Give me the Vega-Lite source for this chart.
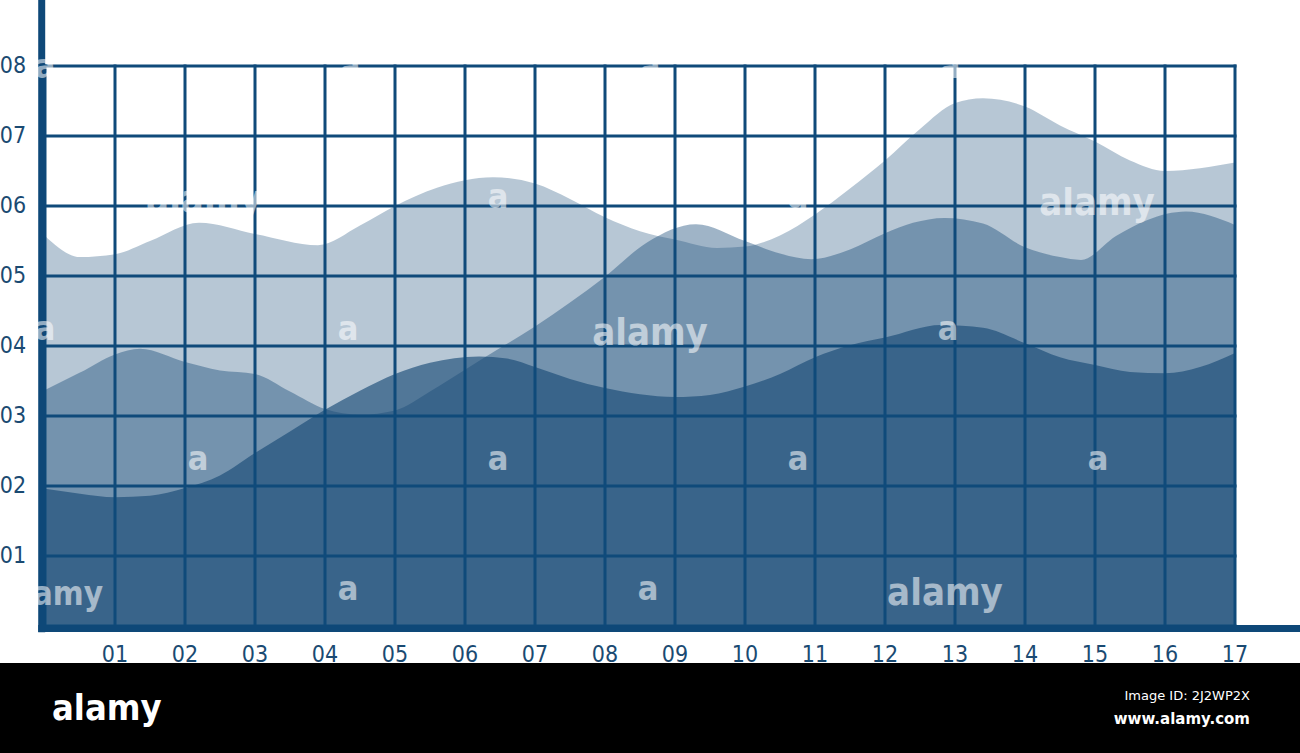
{
  "$schema": "https://vega.github.io/schema/vega-lite/v6.json",
  "width": 1300,
  "height": 753,
  "autosize": "none",
  "padding": 0,
  "background": "white",
  "config": {"view": {"stroke": null}},
  "datasets": {
    "series": [
      {"series": "A", "x": 0, "value": 5.57}, {"series": "A", "x": 0.5, "value": 5.27}, {"series": "A", "x": 1, "value": 5.31},
      {"series": "A", "x": 1.5, "value": 5.5}, {"series": "A", "x": 2.2, "value": 5.76}, {"series": "A", "x": 3, "value": 5.6},
      {"series": "A", "x": 3.9, "value": 5.44}, {"series": "A", "x": 4.5, "value": 5.72}, {"series": "A", "x": 5, "value": 6.0},
      {"series": "A", "x": 5.6, "value": 6.26}, {"series": "A", "x": 6.4, "value": 6.41}, {"series": "A", "x": 7, "value": 6.32},
      {"series": "A", "x": 7.5, "value": 6.1}, {"series": "A", "x": 8, "value": 5.84}, {"series": "A", "x": 8.5, "value": 5.64},
      {"series": "A", "x": 9, "value": 5.52}, {"series": "A", "x": 9.6, "value": 5.4}, {"series": "A", "x": 10, "value": 5.42},
      {"series": "A", "x": 10.5, "value": 5.58}, {"series": "A", "x": 11, "value": 5.88}, {"series": "A", "x": 11.5, "value": 6.25},
      {"series": "A", "x": 12, "value": 6.65}, {"series": "A", "x": 12.5, "value": 7.1}, {"series": "A", "x": 13, "value": 7.47},
      {"series": "A", "x": 13.4, "value": 7.54}, {"series": "A", "x": 14, "value": 7.42}, {"series": "A", "x": 14.5, "value": 7.15},
      {"series": "A", "x": 15, "value": 6.92}, {"series": "A", "x": 15.5, "value": 6.65}, {"series": "A", "x": 16, "value": 6.5},
      {"series": "A", "x": 16.5, "value": 6.54}, {"series": "A", "x": 17, "value": 6.62},
      {"series": "B", "x": 0, "value": 3.37}, {"series": "B", "x": 0.5, "value": 3.62}, {"series": "B", "x": 1, "value": 3.88},
      {"series": "B", "x": 1.36, "value": 3.96}, {"series": "B", "x": 2, "value": 3.77}, {"series": "B", "x": 2.5, "value": 3.65},
      {"series": "B", "x": 3, "value": 3.6}, {"series": "B", "x": 3.5, "value": 3.35}, {"series": "B", "x": 4, "value": 3.1},
      {"series": "B", "x": 4.5, "value": 3.02}, {"series": "B", "x": 5, "value": 3.08}, {"series": "B", "x": 5.5, "value": 3.35},
      {"series": "B", "x": 6, "value": 3.66}, {"series": "B", "x": 6.5, "value": 3.97}, {"series": "B", "x": 7, "value": 4.28},
      {"series": "B", "x": 7.5, "value": 4.62}, {"series": "B", "x": 8, "value": 4.99}, {"series": "B", "x": 8.6, "value": 5.48},
      {"series": "B", "x": 9.3, "value": 5.74}, {"series": "B", "x": 10, "value": 5.5}, {"series": "B", "x": 10.5, "value": 5.32},
      {"series": "B", "x": 10.95, "value": 5.24}, {"series": "B", "x": 11.5, "value": 5.38}, {"series": "B", "x": 12, "value": 5.61},
      {"series": "B", "x": 12.4, "value": 5.76}, {"series": "B", "x": 12.85, "value": 5.83}, {"series": "B", "x": 13.4, "value": 5.75},
      {"series": "B", "x": 14, "value": 5.41}, {"series": "B", "x": 14.5, "value": 5.27}, {"series": "B", "x": 14.8, "value": 5.23},
      {"series": "B", "x": 15.3, "value": 5.57}, {"series": "B", "x": 15.75, "value": 5.8}, {"series": "B", "x": 16.3, "value": 5.92},
      {"series": "B", "x": 17, "value": 5.73},
      {"series": "C", "x": 0, "value": 1.96}, {"series": "C", "x": 0.5, "value": 1.89}, {"series": "C", "x": 1, "value": 1.84},
      {"series": "C", "x": 1.5, "value": 1.86}, {"series": "C", "x": 2, "value": 1.97}, {"series": "C", "x": 2.5, "value": 2.15},
      {"series": "C", "x": 3, "value": 2.47}, {"series": "C", "x": 3.5, "value": 2.78}, {"series": "C", "x": 4, "value": 3.09},
      {"series": "C", "x": 4.5, "value": 3.36}, {"series": "C", "x": 5, "value": 3.6}, {"series": "C", "x": 5.5, "value": 3.76},
      {"series": "C", "x": 6.2, "value": 3.85}, {"series": "C", "x": 6.6, "value": 3.82}, {"series": "C", "x": 7, "value": 3.7},
      {"series": "C", "x": 7.5, "value": 3.53}, {"series": "C", "x": 8, "value": 3.4}, {"series": "C", "x": 8.5, "value": 3.31},
      {"series": "C", "x": 9, "value": 3.27}, {"series": "C", "x": 9.5, "value": 3.3}, {"series": "C", "x": 10, "value": 3.42},
      {"series": "C", "x": 10.5, "value": 3.6}, {"series": "C", "x": 11, "value": 3.84}, {"series": "C", "x": 11.5, "value": 4.01},
      {"series": "C", "x": 12, "value": 4.12}, {"series": "C", "x": 12.8, "value": 4.3}, {"series": "C", "x": 13.4, "value": 4.26},
      {"series": "C", "x": 14, "value": 4.04}, {"series": "C", "x": 14.5, "value": 3.84}, {"series": "C", "x": 15, "value": 3.73},
      {"series": "C", "x": 15.5, "value": 3.63}, {"series": "C", "x": 16, "value": 3.61}, {"series": "C", "x": 16.5, "value": 3.7},
      {"series": "C", "x": 17, "value": 3.9}
    ],
    "xticks": [
      {"tick": 0}, {"tick": 1}, {"tick": 2}, {"tick": 3}, {"tick": 4}, {"tick": 5}, {"tick": 6}, {"tick": 7}, {"tick": 8},
      {"tick": 9}, {"tick": 10}, {"tick": 11}, {"tick": 12}, {"tick": 13}, {"tick": 14}, {"tick": 15}, {"tick": 16}, {"tick": 17}
    ],
    "yticks": [
      {"tick": 0}, {"tick": 1}, {"tick": 2}, {"tick": 3}, {"tick": 4}, {"tick": 5}, {"tick": 6}, {"tick": 7}, {"tick": 8}
    ],
    "wm_big": [
      {"x": 2.271, "y": 5.914}, {"x": 8.643, "y": 4.014},
      {"x": 12.857, "y": 0.3}, {"x": 15.029, "y": 5.871}
    ],
    "wm_small": [
      {"x": 0, "y": 7.829}, {"x": 4.357, "y": 7.829}, {"x": 8.643, "y": 7.829}, {"x": 12.929, "y": 7.829},
      {"x": 6.471, "y": 5.971}, {"x": 10.757, "y": 5.971},
      {"x": 0, "y": 4.086}, {"x": 4.329, "y": 4.086}, {"x": 12.9, "y": 4.086},
      {"x": 2.186, "y": 2.229}, {"x": 6.471, "y": 2.229}, {"x": 10.757, "y": 2.229}, {"x": 15.043, "y": 2.229},
      {"x": 4.329, "y": 0.371}, {"x": 8.614, "y": 0.371}
    ]
  },
  "layer": [
    {
      "data": {"name": "series"},
      "transform": [{"filter": "datum.series === 'A'"}],
      "mark": {"type": "area", "interpolate": "monotone", "color": "#174a76", "opacity": 0.31},
      "encoding": {
        "x": {"field": "x", "type": "quantitative", "scale": {"domain": [-0.642857, 17.928571], "nice": false, "zero": false}, "axis": null},
        "y": {"field": "value", "type": "quantitative", "stack": null, "scale": {"domain": [-1.814286, 8.942857], "nice": false, "zero": false}, "axis": null}
      }
    },
    {
      "data": {"name": "series"},
      "transform": [{"filter": "datum.series === 'B'"}],
      "mark": {"type": "area", "interpolate": "monotone", "color": "#174a76", "opacity": 0.41},
      "encoding": {
        "x": {"field": "x", "type": "quantitative", "scale": {"domain": [-0.642857, 17.928571], "nice": false, "zero": false}, "axis": null},
        "y": {"field": "value", "type": "quantitative", "stack": null, "scale": {"domain": [-1.814286, 8.942857], "nice": false, "zero": false}, "axis": null}
      }
    },
    {
      "data": {"name": "series"},
      "transform": [{"filter": "datum.series === 'C'"}],
      "mark": {"type": "area", "interpolate": "monotone", "color": "#174a76", "opacity": 0.64},
      "encoding": {
        "x": {"field": "x", "type": "quantitative", "scale": {"domain": [-0.642857, 17.928571], "nice": false, "zero": false}, "axis": null},
        "y": {"field": "value", "type": "quantitative", "stack": null, "scale": {"domain": [-1.814286, 8.942857], "nice": false, "zero": false}, "axis": null}
      }
    },
    {
      "data": {"name": "xticks"},
      "mark": {"type": "rule", "color": "#0f4a7a", "strokeWidth": 3, "strokeCap": "square"},
      "encoding": {
        "x": {"field": "tick", "type": "quantitative", "scale": {"domain": [-0.642857, 17.928571], "nice": false, "zero": false}, "axis": null},
        "y": {"datum": 0, "type": "quantitative", "scale": {"domain": [-1.814286, 8.942857], "nice": false, "zero": false}, "axis": null},
        "y2": {"datum": 8}
      }
    },
    {
      "data": {"name": "yticks"},
      "mark": {"type": "rule", "color": "#0f4a7a", "strokeWidth": 3, "strokeCap": "square"},
      "encoding": {
        "y": {"field": "tick", "type": "quantitative", "scale": {"domain": [-1.814286, 8.942857], "nice": false, "zero": false}, "axis": null},
        "x": {"datum": 0, "type": "quantitative", "scale": {"domain": [-0.642857, 17.928571], "nice": false, "zero": false}, "axis": null},
        "x2": {"datum": 17}
      }
    },
    {
      "data": {"values": [{}]},
      "mark": {"type": "rule", "color": "#0e4878", "strokeWidth": 7},
      "encoding": {
        "x": {"datum": -0.047, "type": "quantitative", "scale": {"domain": [-0.642857, 17.928571], "nice": false, "zero": false}, "axis": null},
        "y": {"datum": -0.09, "type": "quantitative", "scale": {"domain": [-1.814286, 8.942857], "nice": false, "zero": false}, "axis": null},
        "y2": {"datum": 8.95}
      }
    },
    {
      "data": {"values": [{}]},
      "mark": {"type": "rule", "color": "#0e4878", "strokeWidth": 7},
      "encoding": {
        "y": {"datum": -0.036, "type": "quantitative", "scale": {"domain": [-1.814286, 8.942857], "nice": false, "zero": false}, "axis": null},
        "x": {"datum": -0.097, "type": "quantitative", "scale": {"domain": [-0.642857, 17.928571], "nice": false, "zero": false}, "axis": null},
        "x2": {"datum": 17.95}
      }
    },
    {
      "data": {"name": "wm_big"},
      "mark": {"type": "text", "text": "alamy", "font": "DejaVu Sans Condensed, DejaVu Sans, sans-serif", "fontWeight": "bold", "fontSize": 38, "align": "center", "baseline": "alphabetic", "color": "white", "opacity": 0.55},
      "encoding": {
        "x": {"field": "x", "type": "quantitative", "scale": {"domain": [-0.642857, 17.928571], "nice": false, "zero": false}, "axis": null},
        "y": {"field": "y", "type": "quantitative", "scale": {"domain": [-1.814286, 8.942857], "nice": false, "zero": false}, "axis": null}
      }
    },
    {
      "data": {"values": [{}]},
      "mark": {"type": "text", "text": "alamy", "font": "DejaVu Sans Condensed, DejaVu Sans, sans-serif", "fontWeight": "bold", "fontSize": 33, "align": "right", "baseline": "alphabetic", "color": "white", "opacity": 0.55},
      "encoding": {
        "x": {"datum": 0.829, "type": "quantitative", "scale": {"domain": [-0.642857, 17.928571], "nice": false, "zero": false}, "axis": null},
        "y": {"datum": 0.3, "type": "quantitative", "scale": {"domain": [-1.814286, 8.942857], "nice": false, "zero": false}, "axis": null}
      }
    },
    {
      "data": {"name": "wm_small"},
      "mark": {"type": "text", "text": "a", "font": "DejaVu Sans Condensed, DejaVu Sans, sans-serif", "fontWeight": "bold", "fontSize": 34, "align": "center", "baseline": "alphabetic", "color": "white", "opacity": 0.55},
      "encoding": {
        "x": {"field": "x", "type": "quantitative", "scale": {"domain": [-0.642857, 17.928571], "nice": false, "zero": false}, "axis": null},
        "y": {"field": "y", "type": "quantitative", "scale": {"domain": [-1.814286, 8.942857], "nice": false, "zero": false}, "axis": null}
      }
    },
    {
      "data": {"name": "xticks"},
      "transform": [{"filter": "datum.tick > 0"}],
      "mark": {"type": "text", "font": "DejaVu Sans Condensed, DejaVu Sans, sans-serif", "fontSize": 23, "align": "center", "baseline": "alphabetic", "color": "#1a4a72"},
      "encoding": {
        "x": {"field": "tick", "type": "quantitative", "scale": {"domain": [-0.642857, 17.928571], "nice": false, "zero": false}, "axis": null},
        "y": {"datum": -0.514, "type": "quantitative", "scale": {"domain": [-1.814286, 8.942857], "nice": false, "zero": false}, "axis": null},
        "text": {"field": "tick", "type": "quantitative", "format": "02d"}
      }
    },
    {
      "data": {"name": "yticks"},
      "transform": [{"filter": "datum.tick > 0"}],
      "mark": {"type": "text", "font": "DejaVu Sans Condensed, DejaVu Sans, sans-serif", "fontSize": 23, "align": "right", "baseline": "middle", "color": "#1a4a72"},
      "encoding": {
        "y": {"field": "tick", "type": "quantitative", "scale": {"domain": [-1.814286, 8.942857], "nice": false, "zero": false}, "axis": null},
        "x": {"datum": -0.27, "type": "quantitative", "scale": {"domain": [-0.642857, 17.928571], "nice": false, "zero": false}, "axis": null},
        "text": {"field": "tick", "type": "quantitative", "format": "02d"}
      }
    },
    {
      "data": {"values": [{}]},
      "mark": {"type": "rect", "color": "black"},
      "encoding": {
        "x": {"datum": -0.7, "type": "quantitative", "scale": {"domain": [-0.642857, 17.928571], "nice": false, "zero": false}, "axis": null},
        "x2": {"datum": 18},
        "y": {"datum": -0.5286, "type": "quantitative", "scale": {"domain": [-1.814286, 8.942857], "nice": false, "zero": false}, "axis": null},
        "y2": {"datum": -1.9}
      }
    },
    {
      "data": {"values": [{}]},
      "mark": {"type": "text", "text": "alamy", "font": "DejaVu Sans Condensed, DejaVu Sans, sans-serif", "fontWeight": "bold", "fontSize": 36, "align": "left", "baseline": "alphabetic", "color": "white"},
      "encoding": {
        "x": {"datum": 0.1, "type": "quantitative", "scale": {"domain": [-0.642857, 17.928571], "nice": false, "zero": false}, "axis": null},
        "y": {"datum": -1.343, "type": "quantitative", "scale": {"domain": [-1.814286, 8.942857], "nice": false, "zero": false}, "axis": null}
      }
    },
    {
      "data": {"values": [{}]},
      "mark": {"type": "text", "text": "Image ID: 2J2WP2X", "font": "DejaVu Sans, sans-serif", "fontSize": 13, "align": "right", "baseline": "alphabetic", "color": "white"},
      "encoding": {
        "x": {"datum": 17.214, "type": "quantitative", "scale": {"domain": [-0.642857, 17.928571], "nice": false, "zero": false}, "axis": null},
        "y": {"datum": -1.057, "type": "quantitative", "scale": {"domain": [-1.814286, 8.942857], "nice": false, "zero": false}, "axis": null}
      }
    },
    {
      "data": {"values": [{}]},
      "mark": {"type": "text", "text": "www.alamy.com", "font": "DejaVu Sans, sans-serif", "fontSize": 15, "fontWeight": "bold", "align": "right", "baseline": "alphabetic", "color": "white"},
      "encoding": {
        "x": {"datum": 17.214, "type": "quantitative", "scale": {"domain": [-0.642857, 17.928571], "nice": false, "zero": false}, "axis": null},
        "y": {"datum": -1.4, "type": "quantitative", "scale": {"domain": [-1.814286, 8.942857], "nice": false, "zero": false}, "axis": null}
      }
    }
  ]
}
